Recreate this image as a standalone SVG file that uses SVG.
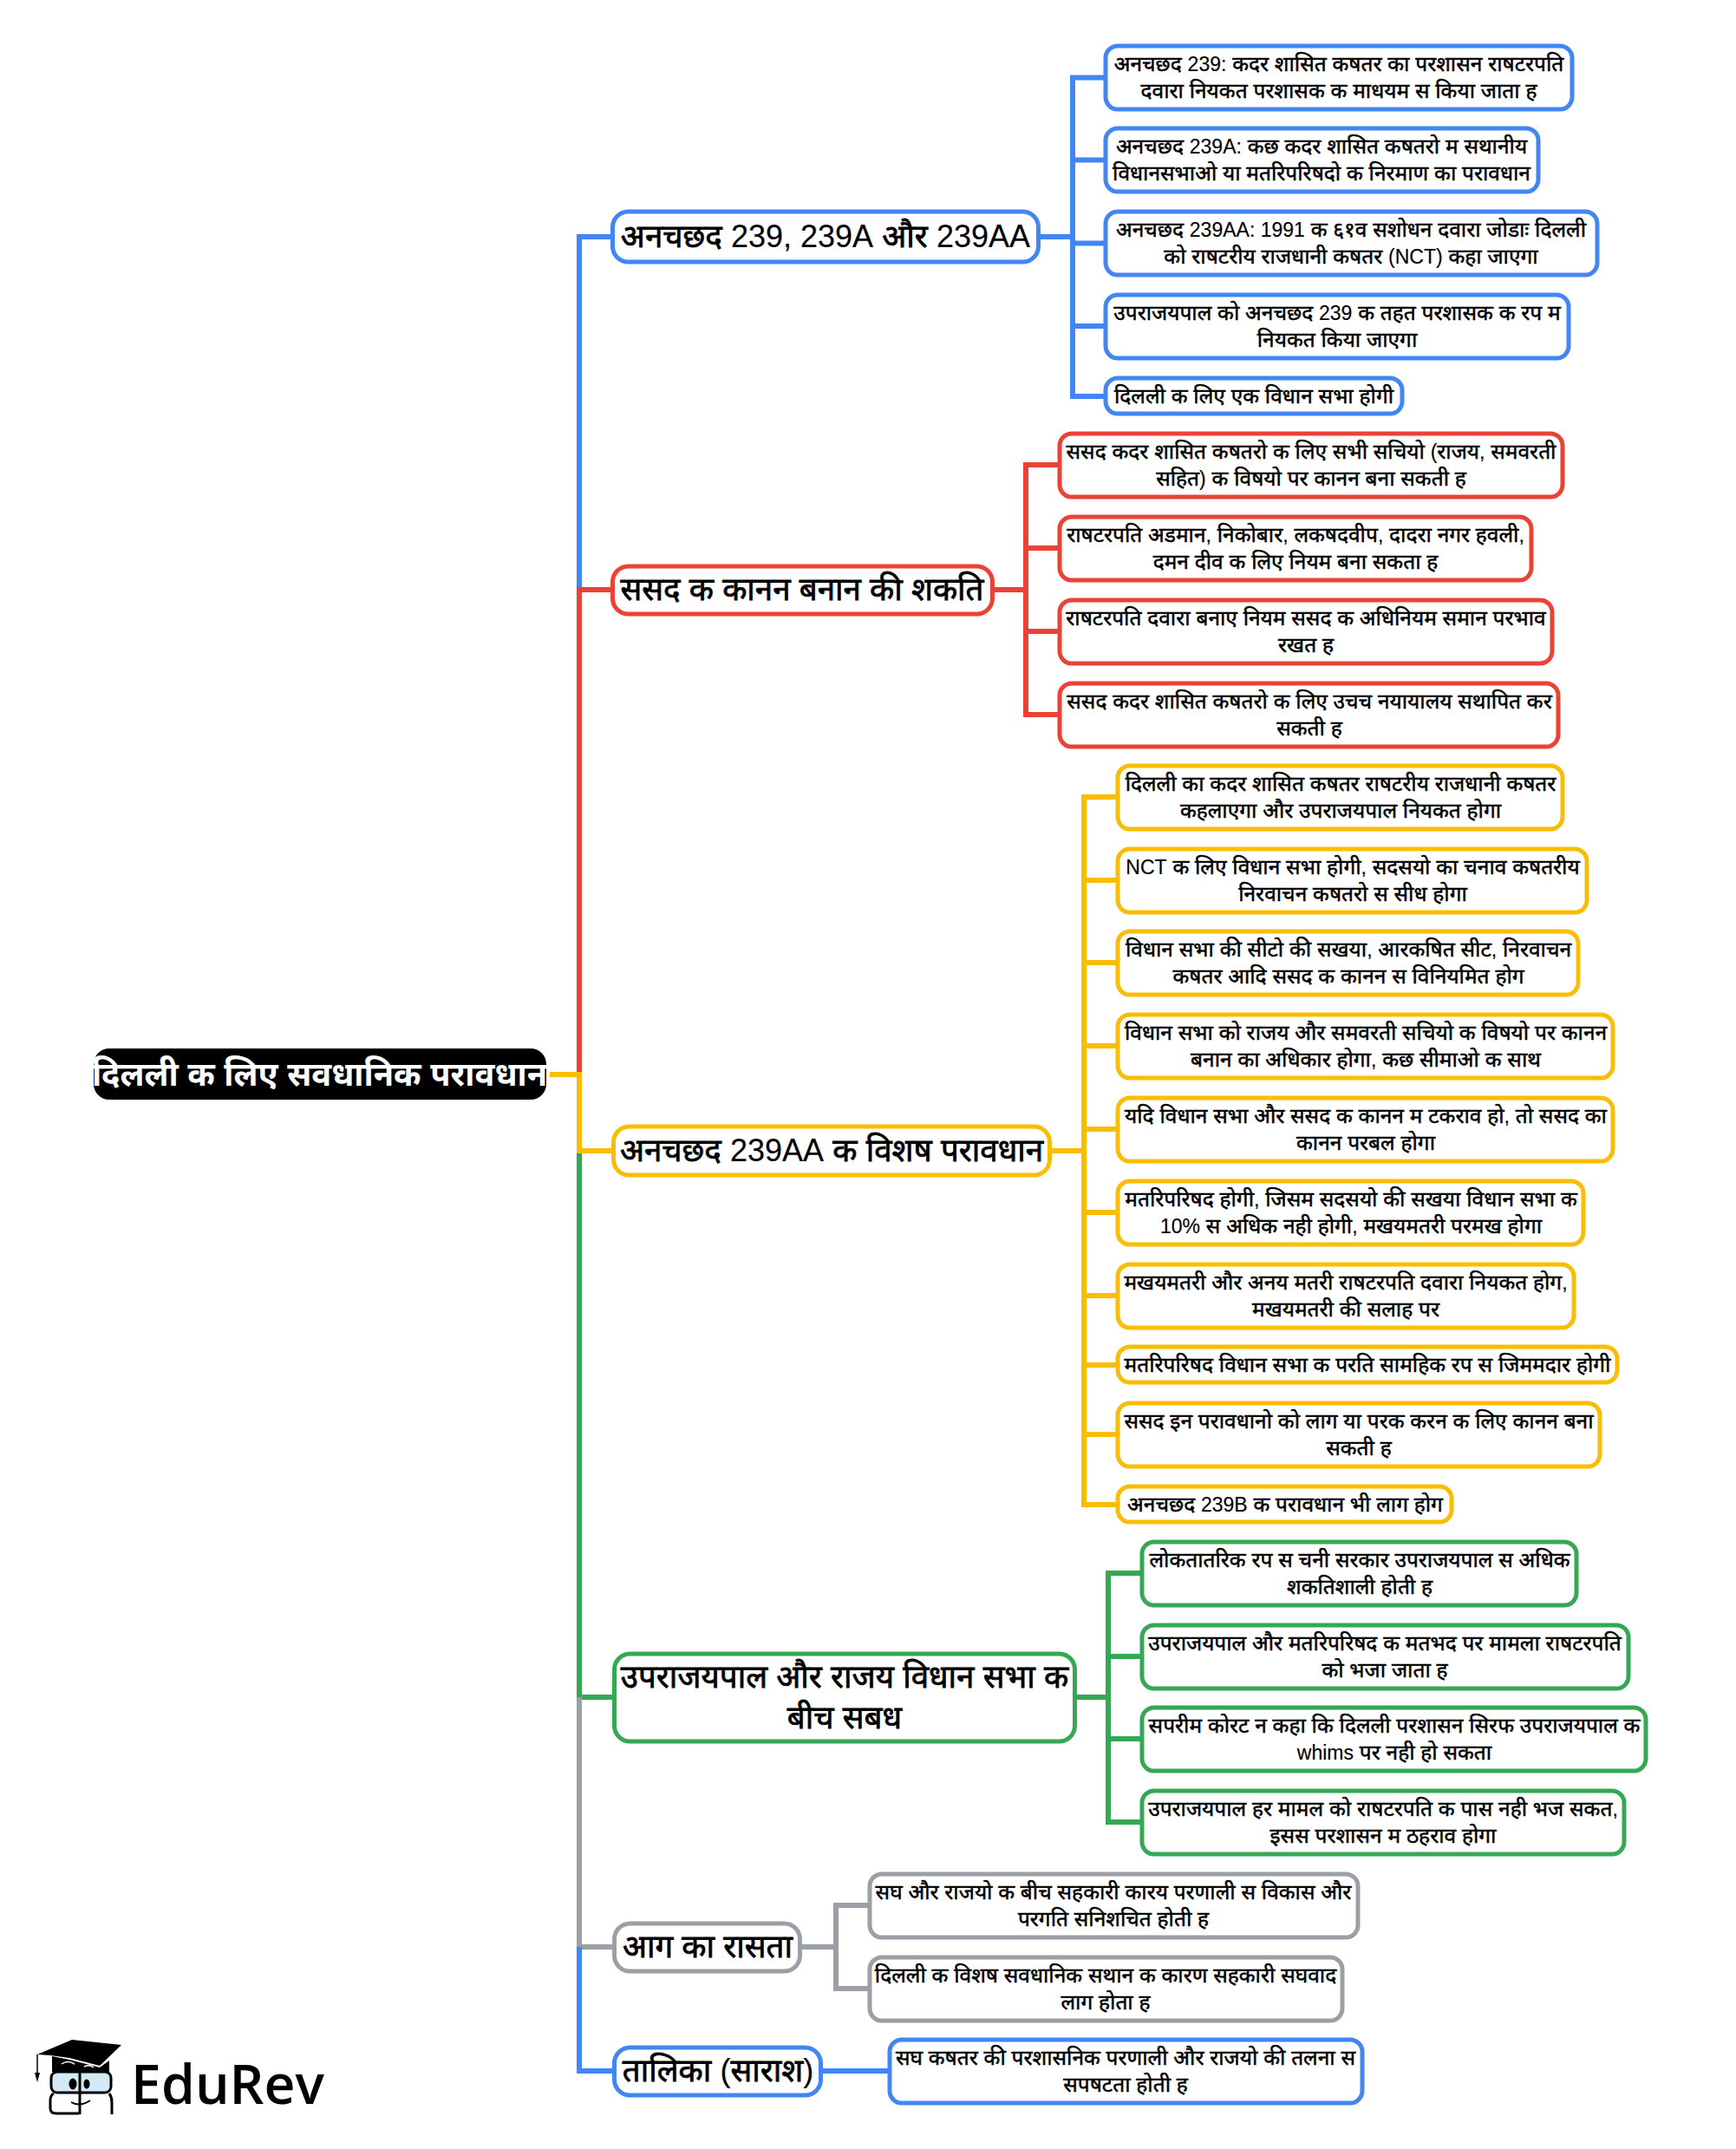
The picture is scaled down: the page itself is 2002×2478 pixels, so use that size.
<svg xmlns="http://www.w3.org/2000/svg" width="2002" height="2478" viewBox="0 0 2002 2478">
<style>
text{font-family:"Liberation Sans","Noto Sans",sans-serif;fill:#000;text-anchor:middle}
.l rect{fill:#fff;stroke-width:5}
.l text{font-size:24.500px;stroke:#000;stroke-width:.5px;transform:translateY(.6px)}
.l .n{font-size:23px;stroke-width:.15px}
.r rect{fill:#fff;stroke-width:5}
.r text{font-size:36.700px;stroke:#000;stroke-width:.8px;transform:translateY(-.2px)}
.r .n{font-size:36px;stroke-width:.15px}
.b rect{stroke:#4285f4}.d rect{stroke:#ea4335}.y rect{stroke:#fbbc04}.g rect{stroke:#34a853}.s rect{stroke:#9aa0a6}
#connectors path{fill:none;stroke-width:6}
</style>
<rect width="2002" height="2478" fill="#fff"/>
<g id="connectors">
<path stroke="#4285f4" d="M668 1239V273H704M1200 273H1237M1274 89.500H1237V457H1274M1237 184.500H1274M1237 280.500H1274M1237 376H1274"/>
<path stroke="#ea4335" d="M668 1239V680H704M1147 680H1183M1221 536H1183V824H1221M1183 632H1221M1183 728H1221"/>
<path stroke="#34a853" d="M668 1327V1957H706M1242 1957H1278M1316 1814H1278V2101H1316M1278 1910H1316M1278 2005H1316"/>
<path stroke="#9aa0a6" d="M668 1957V2245H706M925 2245H964M1002 2197H964V2293H1002"/>
<path stroke="#4285f4" d="M668 2245V2388H706M949 2388H1025"/>
<path stroke="#fbbc04" d="M634 1239H668V1327H705M1213 1327H1250M1288 919H1250V1735H1288M1250 1015H1288M1250 1110H1288M1250 1206H1288M1250 1302H1288M1250 1398H1288M1250 1494H1288M1250 1574H1288M1250 1654H1288"/>
</g>
<g id="root"><rect x="108" y="1209" width="522" height="59" rx="18" fill="#000"/><text x="368.500" y="1252" font-size="38" font-weight="700" style="fill:#fff">दिलली क लिए सवधानिक परावधान</text></g>
<g id="a0" class="r b"><rect x="706.500" y="244" width="491" height="58" rx="18"/><text x="952" y="285">अनचछद <tspan class="n">239, 239A</tspan> और <tspan class="n">239AA</tspan></text></g>
<g id="a1" class="l b"><rect x="1275" y="53" width="538" height="73" rx="14"/><text x="1544" y="81">अनचछद <tspan class="n">239:</tspan> कदर शासित कषतर का परशासन राषटरपति</text><text x="1544" y="112">दवारा नियकत परशासक क माधयम स किया जाता ह</text></g>
<g id="a2" class="l b"><rect x="1275" y="148" width="499" height="73" rx="14"/><text x="1524" y="176">अनचछद <tspan class="n">239A:</tspan> कछ कदर शासित कषतरो म सथानीय</text><text x="1524" y="207">विधानसभाओ या मतरिपरिषदो क निरमाण का परावधान</text></g>
<g id="a3" class="l b"><rect x="1275" y="244" width="567" height="73" rx="14"/><text x="1558" y="272">अनचछद <tspan class="n">239AA: 1991</tspan> क ६१व सशोधन दवारा जोडाः दिलली</text><text x="1558" y="303">को राषटरीय राजधानी कषतर <tspan class="n">(NCT)</tspan> कहा जाएगा</text></g>
<g id="a4" class="l b"><rect x="1275" y="340" width="534" height="73" rx="14"/><text x="1542" y="368">उपराजयपाल को अनचछद <tspan class="n">239</tspan> क तहत परशासक क रप म</text><text x="1542" y="399">नियकत किया जाएगा</text></g>
<g id="a5" class="l b"><rect x="1275" y="436" width="342" height="41" rx="14"/><text x="1446" y="464">दिलली क लिए एक विधान सभा होगी</text></g>
<g id="b0" class="r d"><rect x="706.500" y="653" width="438" height="55" rx="18"/><text x="925" y="692">ससद क कानन बनान की शकति</text></g>
<g id="b1" class="l d"><rect x="1222" y="500" width="580" height="73" rx="14"/><text x="1512" y="528">ससद कदर शासित कषतरो क लिए सभी सचियो <tspan class="n">(</tspan>राजय<tspan class="n">,</tspan> समवरती</text><text x="1512" y="559">सहित<tspan class="n">)</tspan> क विषयो पर कानन बना सकती ह</text></g>
<g id="b2" class="l d"><rect x="1222" y="596" width="544" height="73" rx="14"/><text x="1494" y="624">राषटरपति अडमान<tspan class="n">,</tspan> निकोबार<tspan class="n">,</tspan> लकषदवीप<tspan class="n">,</tspan> दादरा नगर हवली<tspan class="n">,</tspan></text><text x="1494" y="655">दमन दीव क लिए नियम बना सकता ह</text></g>
<g id="b3" class="l d"><rect x="1222" y="692" width="568" height="73" rx="14"/><text x="1506" y="720">राषटरपति दवारा बनाए नियम ससद क अधिनियम समान परभाव</text><text x="1506" y="751">रखत ह</text></g>
<g id="b4" class="l d"><rect x="1222" y="788" width="575" height="73" rx="14"/><text x="1510" y="816">ससद कदर शासित कषतरो क लिए उचच नयायालय सथापित कर</text><text x="1510" y="847">सकती ह</text></g>
<g id="c0" class="r y"><rect x="707.500" y="1299" width="503" height="56" rx="18"/><text x="959" y="1339">अनचछद <tspan class="n">239AA</tspan> क विशष परावधान</text></g>
<g id="c1" class="l y"><rect x="1289" y="883" width="513" height="73" rx="14"/><text x="1546" y="911">दिलली का कदर शासित कषतर राषटरीय राजधानी कषतर</text><text x="1546" y="942">कहलाएगा और उपराजयपाल नियकत होगा</text></g>
<g id="c2" class="l y"><rect x="1289" y="979" width="541" height="73" rx="14"/><text x="1560" y="1007"><tspan class="n">NCT</tspan> क लिए विधान सभा होगी<tspan class="n">,</tspan> सदसयो का चनाव कषतरीय</text><text x="1560" y="1038">निरवाचन कषतरो स सीध होगा</text></g>
<g id="c3" class="l y"><rect x="1289" y="1074" width="531" height="73" rx="14"/><text x="1555" y="1102">विधान सभा की सीटो की सखया<tspan class="n">,</tspan> आरकषित सीट<tspan class="n">,</tspan> निरवाचन</text><text x="1555" y="1133">कषतर आदि ससद क कानन स विनियमित होग</text></g>
<g id="c4" class="l y"><rect x="1289" y="1170" width="571" height="73" rx="14"/><text x="1575" y="1198">विधान सभा को राजय और समवरती सचियो क विषयो पर कानन</text><text x="1575" y="1229">बनान का अधिकार होगा<tspan class="n">,</tspan> कछ सीमाओ क साथ</text></g>
<g id="c5" class="l y"><rect x="1289" y="1266" width="571" height="73" rx="14"/><text x="1575" y="1294">यदि विधान सभा और ससद क कानन म टकराव हो<tspan class="n">,</tspan> तो ससद का</text><text x="1575" y="1325">कानन परबल होगा</text></g>
<g id="c6" class="l y"><rect x="1289" y="1362" width="537" height="73" rx="14"/><text x="1558" y="1390">मतरिपरिषद होगी<tspan class="n">,</tspan> जिसम सदसयो की सखया विधान सभा क</text><text x="1558" y="1421"><tspan class="n">10%</tspan> स अधिक नही होगी<tspan class="n">,</tspan> मखयमतरी परमख होगा</text></g>
<g id="c7" class="l y"><rect x="1289" y="1458" width="526" height="73" rx="14"/><text x="1552" y="1486">मखयमतरी और अनय मतरी राषटरपति दवारा नियकत होग<tspan class="n">,</tspan></text><text x="1552" y="1517">मखयमतरी की सलाह पर</text></g>
<g id="c8" class="l y"><rect x="1289" y="1553" width="576" height="41" rx="14"/><text x="1577" y="1581">मतरिपरिषद विधान सभा क परति सामहिक रप स जिममदार होगी</text></g>
<g id="c9" class="l y"><rect x="1289" y="1618" width="556" height="73" rx="14"/><text x="1567" y="1646">ससद इन परावधानो को लाग या परक करन क लिए कानन बना</text><text x="1567" y="1677">सकती ह</text></g>
<g id="c10" class="l y"><rect x="1289" y="1714" width="385" height="41" rx="14"/><text x="1482" y="1742">अनचछद <tspan class="n">239B</tspan> क परावधान भी लाग होग</text></g>
<g id="d0" class="r g"><rect x="708.500" y="1907" width="531" height="101" rx="18"/><text x="974" y="1946.500">उपराजयपाल और राजय विधान सभा क</text><text x="974" y="1993">बीच सबध</text></g>
<g id="d1" class="l g"><rect x="1317" y="1778" width="501" height="73" rx="14"/><text x="1568" y="1806">लोकतातरिक रप स चनी सरकार उपराजयपाल स अधिक</text><text x="1568" y="1837">शकतिशाली होती ह</text></g>
<g id="d2" class="l g"><rect x="1317" y="1874" width="561" height="73" rx="14"/><text x="1597" y="1902">उपराजयपाल और मतरिपरिषद क मतभद पर मामला राषटरपति</text><text x="1597" y="1933">को भजा जाता ह</text></g>
<g id="d3" class="l g"><rect x="1317" y="1969" width="581" height="73" rx="14"/><text x="1608" y="1997">सपरीम कोरट न कहा कि दिलली परशासन सिरफ उपराजयपाल क</text><text x="1608" y="2028"><tspan class="n">whims</tspan> पर नही हो सकता</text></g>
<g id="d4" class="l g"><rect x="1317" y="2065" width="556" height="73" rx="14"/><text x="1595" y="2093">उपराजयपाल हर मामल को राषटरपति क पास नही भज सकत<tspan class="n">,</tspan></text><text x="1595" y="2124">इसस परशासन म ठहराव होगा</text></g>
<g id="e0" class="r s"><rect x="708.500" y="2218" width="214" height="55" rx="18"/><text x="816" y="2257">आग का रासता</text></g>
<g id="e1" class="l s"><rect x="1003" y="2161" width="563" height="73" rx="14"/><text x="1284" y="2189">सघ और राजयो क बीच सहकारी कारय परणाली स विकास और</text><text x="1284" y="2220">परगति सनिशचित होती ह</text></g>
<g id="e2" class="l s"><rect x="1003" y="2257" width="545" height="73" rx="14"/><text x="1275" y="2285">दिलली क विशष सवधानिक सथान क कारण सहकारी सघवाद</text><text x="1275" y="2316">लाग होता ह</text></g>
<g id="f0" class="r b"><rect x="708.500" y="2361" width="238" height="55" rx="18"/><text x="828" y="2400">तालिका <tspan class="n">(</tspan>साराश<tspan class="n">)</tspan></text></g>
<g id="f1" class="l b"><rect x="1026" y="2352" width="545" height="73" rx="14"/><text x="1298" y="2380">सघ कषतर की परशासनिक परणाली और राजयो की तलना स</text><text x="1298" y="2411">सपषटता होती ह</text></g>
<g id="logo">
<path d="M43 2369L83 2352L140 2358L115 2382L80 2373L58 2370Z" fill="#000"/>
<path d="M43 2369V2390" stroke="#000" stroke-width="1.500" fill="none"/>
<path d="M40 2390H46L43 2401Z" fill="#000"/>
<path d="M60 2371L80 2375L115 2384L126 2376V2389H60Z" fill="#000"/>
<rect x="59" y="2389" width="69" height="24" rx="7" fill="#d3e9f6" stroke="#000" stroke-width="3"/>
<path d="M62 2414Q58 2416 58 2422V2431Q58 2437 65 2437H91M126 2414Q129 2418 129 2424V2438" fill="none" stroke="#000" stroke-width="3"/>
<path d="M92 2388V2438" stroke="#000" stroke-width="3"/>
<ellipse cx="84" cy="2403" rx="4.500" ry="6.500" fill="#000"/><ellipse cx="100" cy="2403" rx="3.500" ry="5.500" fill="#000"/>
<path d="M82 2424Q92 2430 104 2422" fill="none" stroke="#000" stroke-width="2"/>
<path d="M71 2380Q78 2375 86 2380M97 2383Q103 2380 108 2384" fill="none" stroke="#fff" stroke-width="1.500"/>
<text x="262.500" y="2426" font-size="62.500" font-weight="600" style="font-family:'Open Sans','Noto Sans',sans-serif">EduRev</text>
</g>
</svg>
